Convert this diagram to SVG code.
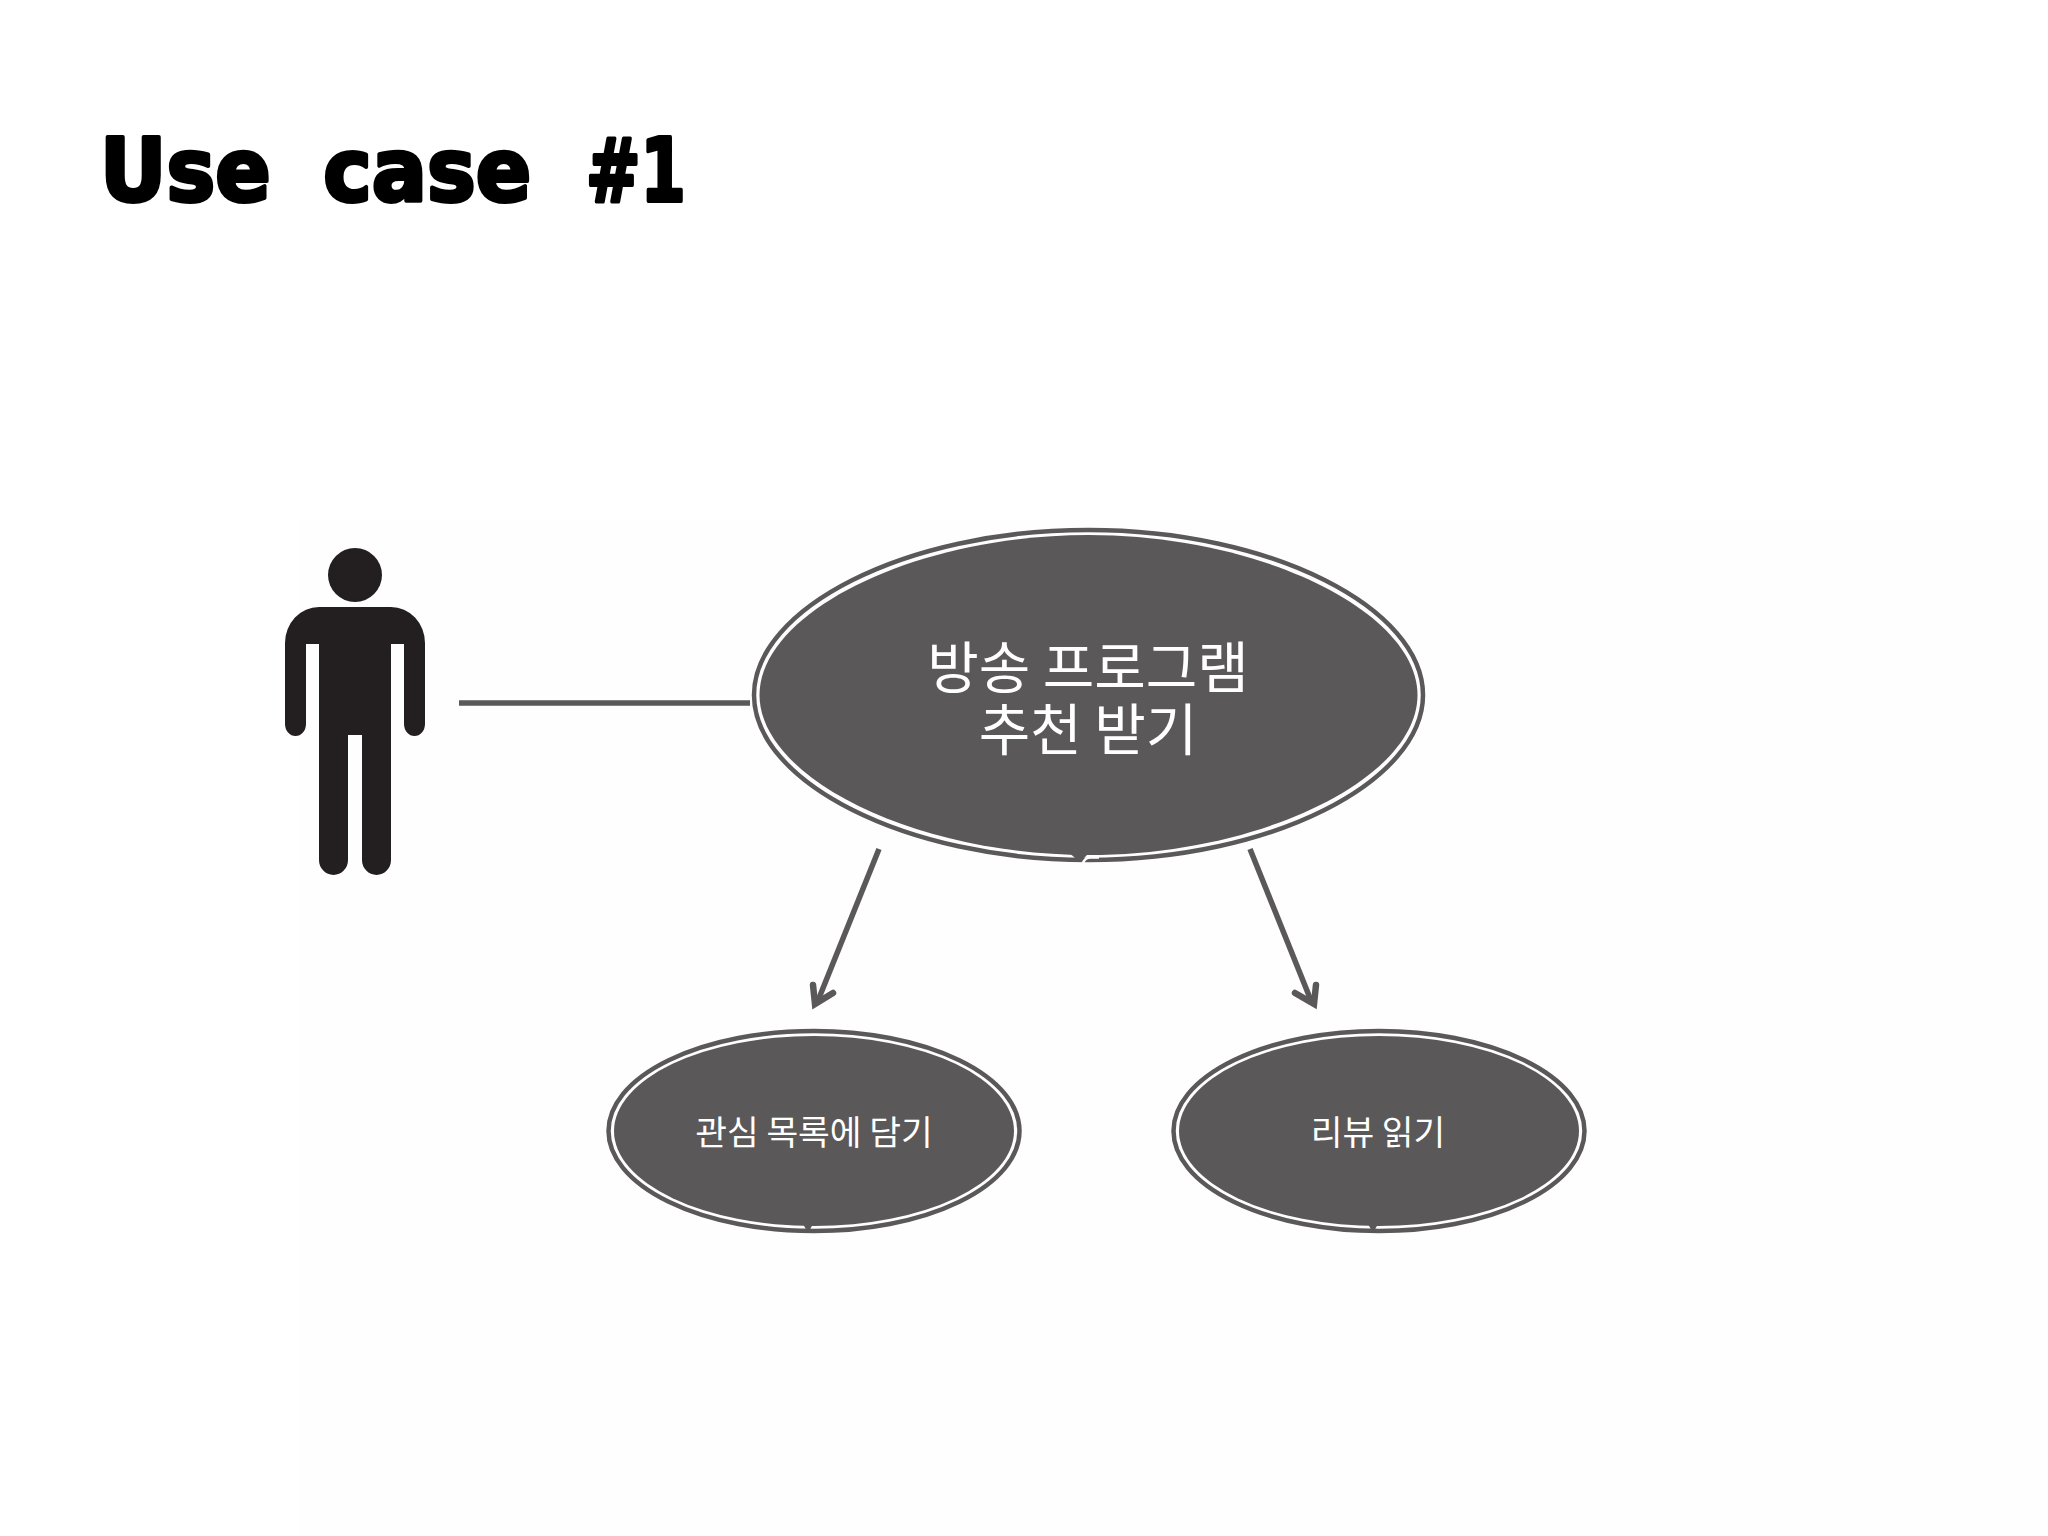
<svg xmlns="http://www.w3.org/2000/svg" width="2048" height="1536" viewBox="0 0 2048 1536">
<defs>
<style>
.ring{fill:none;stroke:#5a5859;stroke-width:4.5}
.core{fill:#5a5859}
.lbl{fill:#fff;font-family:"Noto Sans CJK KR","Noto Sans",sans-serif;text-anchor:middle;font-weight:400}
.big{font-size:56px}
.small{font-size:34.500px}
.conn{fill:none;stroke:#5a5859;stroke-width:5.5;stroke-linecap:butt}
.head{fill:none;stroke:#5a5859;stroke-width:6.500;stroke-linecap:round;stroke-linejoin:miter}
.title{font-family:"DejaVu Sans",sans-serif;font-weight:700;font-size:88px;fill:#000;stroke:#000;stroke-width:4;stroke-linejoin:round}
.nick{fill:none;stroke:#fff;stroke-width:2.500}
</style>
</defs>
<rect width="2048" height="1536" fill="#fff"/>
<rect x="300" y="520" width="1748" height="1016" fill="#fefefe"/>
<g id="title">
<text class="title" transform="translate(100 201) scale(0.93 1)" word-spacing="26">Use case</text>
<text class="title" transform="translate(586 201) scale(0.74 1)">#1</text>
</g>
<g id="actor" fill="#231f20">
<circle cx="355" cy="575" r="27"/>
<path d="M319 607H391A34 36 0 0 1 425 643V724A10.500 12 0 0 1 404 724V644H391V860A14.500 15 0 0 1 362 860V735H348V860A14.500 15 0 0 1 319 860V644H306V724A10.500 12 0 0 1 285 724V643A34 36 0 0 1 319 607Z"/>
</g>
<g id="connectors">
<line class="conn" x1="459" y1="703" x2="750" y2="703"/>
<line class="conn" x1="879" y1="849" x2="817" y2="1003"/>
<path class="head" d="M813 985L815 1004L833 993"/>
<line class="conn" x1="1250" y1="849" x2="1312" y2="1003"/>
<path class="head" d="M1316 985L1314 1004L1295 993"/>
</g>
<g id="main-usecase">
<path class="ring" d="M754 695C754 609 904 530 1088.500 530C1273 530 1423 609 1423 695C1423 781 1273 860 1088.500 860C904 860 754 781 754 695Z"/>
<path class="core" d="M759.500 695C759.500 612 915 535 1088.500 535C1262 535 1417.500 612 1417.500 695C1417.500 778 1262 855 1088.500 855C915 855 759.500 778 759.500 695Z"/>
<path class="core" d="M1068 852L1080 862L1090 852Z"/>
<path class="nick" d="M1083 864Q1084 857.500 1091 857.500H1099"/>
<text class="lbl big" x="1088" y="688">방송 프로그램</text>
<text class="lbl big" x="1088" y="750">추천 받기</text>
</g>
<g id="usecase-watchlist">
<ellipse class="ring" cx="814" cy="1131" rx="205.500" ry="100"/>
<ellipse class="core" cx="814" cy="1131" rx="200" ry="95"/>
<path class="core" d="M803 1224L808 1233L813 1224Z"/>
<text class="lbl small" x="814" y="1145">관심 목록에 담기</text>
</g>
<g id="usecase-review">
<ellipse class="ring" cx="1379" cy="1131" rx="205.500" ry="100"/>
<ellipse class="core" cx="1379" cy="1131" rx="200" ry="95"/>
<path class="core" d="M1368 1224L1373 1233L1378 1224Z"/>
<text class="lbl small" x="1378" y="1145">리뷰 읽기</text>
</g>
</svg>
